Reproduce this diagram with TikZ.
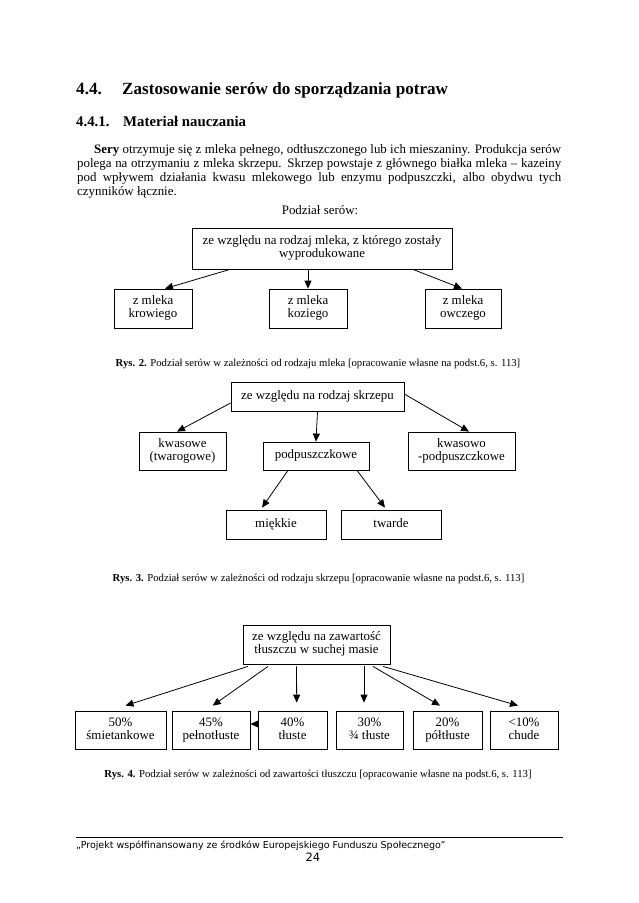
\documentclass[tikz,border=0pt]{standalone}
\usepackage{fontspec}
\setmainfont{Liberation Serif}
\newfontfamily\verd{DejaVu Sans}
\usetikzlibrary{arrows.meta}
\begin{document}
\begin{tikzpicture}[x=1pt,y=-1pt,
  dbox/.style={draw, line width=0.8pt, inner sep=0pt, align=center, font=\fontsize{12.9}{13}\selectfont},
  arr/.style={-{Triangle[length=8pt,width=7pt]}, line width=0.8pt},
  txt/.style={inner sep=0pt, font=\fontsize{12.9}{14}\selectfont},
  captxt/.style={inner sep=0pt, font=\fontsize{10.7}{12}\selectfont},
  hone/.style={inner sep=0pt, anchor=base west, font=\fontsize{17.1}{18}\selectfont\bfseries},
  htwo/.style={inner sep=0pt, anchor=base west, font=\fontsize{14.8}{16}\selectfont\bfseries}]
\path[use as bounding box, fill=white] (0,0) rectangle (638,903);

% headings
\node[hone] (h1n) at (76,94.5) {4.4.};
\node[hone] (h1t) at (122,94.5) {Zastosowanie serów do sporządzania potraw};
\node[htwo] (h2n) at (76,126.5) {4.4.1.};
\node[htwo] (h2t) at (123,126.5) {Materiał nauczania};

% paragraph
\node[txt, anchor=north west, text width=484pt, align=justify] (para) at (77,144)
{\hspace*{17pt}\textbf{Sery} otrzymuje się z mleka pełnego, odtłuszczonego lub ich mieszaniny. Produkcja serów\linebreak
polega na otrzymaniu z mleka skrzepu. Skrzep powstaje z głównego białka mleka – kazeiny\linebreak
pod wpływem działania kwasu mlekowego lub enzymu podpuszczki, albo obydwu tych\linebreak
czynników łącznie.};
\node[txt] (podz) at (320,210) {Podział serów:};

% diagram 1
\node[dbox, minimum width=260pt, minimum height=41pt] (top1) at (322,248.5) {\strut ze względu na rodzaj mleka, z którego zostały\\wyprodukowane\strut};
\node[dbox, minimum width=78pt, minimum height=39pt] (c1) at (153,308.5) {\strut z mleka\\krowiego\strut};
\node[dbox, minimum width=78pt, minimum height=39pt] (c2) at (308,308.5) {\strut z mleka\\koziego\strut};
\node[dbox, minimum width=76pt, minimum height=39pt] (c3) at (463,308.5) {\strut z mleka\\owczego\strut};
\draw[arr] ([xshift=-92pt]top1.south) -- ([xshift=12pt]c1.north);
\draw[arr] ([xshift=-14pt]top1.south) -- ([xshift=0pt]c2.north);
\draw[arr] ([xshift=91pt]top1.south) -- ([xshift=-1pt]c3.north);
\node[captxt] (cap2) at (318,364) {\textbf{Rys. 2.} Podział serów w zależności od rodzaju mleka [opracowanie własne na podst.6, s. 113]};

% diagram 2
\node[dbox, minimum width=173pt, minimum height=29pt] (top2) at (317.5,396.5) {\strut ze względu na rodzaj skrzepu};
\node[dbox, minimum width=87pt, minimum height=38pt] (k1) at (182.5,451) {\strut kwasowe\\(twarogowe)\strut};
\node[dbox, minimum width=106pt, minimum height=28pt] (k2) at (316,456) {\strut podpuszczkowe};
\node[dbox, minimum width=107pt, minimum height=38pt] (k3) at (461.5,451) {\strut kwasowo\\-podpuszczkowe\strut};
\node[dbox, minimum width=100pt, minimum height=29pt] (mk) at (276,524.5) {\strut miękkie};
\node[dbox, minimum width=100pt, minimum height=29pt] (tw) at (391,524.5) {\strut twarde};
\draw[arr] ([yshift=-6.5pt]top2.west) -- ([xshift=-5.5pt]k1.north);
\draw[arr] (top2.south) -- (k2.north);
\draw[arr] ([yshift=2.5pt]top2.east) -- ([xshift=7.5pt]k3.north);
\draw[arr] ([xshift=-28pt]k2.south) -- ([xshift=-14pt,yshift=2pt]mk.north);
\draw[arr] ([xshift=41pt]k2.south) -- ([xshift=-6pt,yshift=2pt]tw.north);
\node[captxt] (cap3) at (318.5,579) {\textbf{Rys. 3.} Podział serów w zależności od rodzaju skrzepu [opracowanie własne na podst.6, s. 113]};

% diagram 3
\node[dbox, minimum width=147pt, minimum height=39pt] (top3) at (316.5,644.5) {\strut ze względu na zawartość\\tłuszczu w suchej masie\strut};
\node[dbox, minimum width=91pt, minimum height=38pt] (b1) at (120.5,730) {\strut 50\%\\śmietankowe\strut};
\node[dbox, minimum width=78pt, minimum height=38pt] (b2) at (211,730) {\strut 45\%\\pełnotłuste\strut};
\node[dbox, minimum width=69pt, minimum height=38pt] (b3) at (292.5,730) {\strut 40\%\\tłuste\strut};
\node[dbox, minimum width=67pt, minimum height=38pt] (b4) at (369.5,730) {\strut 30\%\\¾ tłuste\strut};
\node[dbox, minimum width=69pt, minimum height=38pt] (b5) at (447.5,730) {\strut 20\%\\półtłuste\strut};
\node[dbox, minimum width=68pt, minimum height=38pt] (b6) at (524,730) {\strut <10\%\\chude\strut};
\draw[arr] ([xshift=-68.5pt,yshift=-2pt]top3.south) -- ([xshift=5pt,yshift=5pt]b1.north);
\draw[arr] ([xshift=-48.5pt,yshift=-2pt]top3.south) -- ([xshift=1.7pt,yshift=5pt]b2.north);
\draw[arr] ([xshift=-20pt,yshift=-2pt]top3.south) -- ([xshift=4.2pt,yshift=8pt]b3.north);
\draw[arr] ([xshift=47.5pt,yshift=-2pt]top3.south) -- ([xshift=-5.5pt,yshift=8pt]b4.north);
\draw[arr] ([xshift=56.5pt,yshift=-2pt]top3.south) -- ([xshift=-7.5pt,yshift=5pt]b5.north);
\draw[arr] ([xshift=66.5pt,yshift=-2pt]top3.south) -- ([xshift=-6pt,yshift=5pt]b6.north);
\draw[arr] ([yshift=6pt]b3.west) -- ([yshift=6pt]b2.east);
\node[captxt] (cap4) at (318,775) {\textbf{Rys. 4.} Podział serów w zależności od zawartości tłuszczu [opracowanie własne na podst.6, s. 113]};

% footer
\coordinate (fl) at (76,837);
\coordinate (fr) at (563,837);
\draw[line width=0.8pt] (fl) -- (fr);
\node[inner sep=0pt, anchor=west, font=\verd\fontsize{9.5}{10}\selectfont] (foot) at (76,846) {„Projekt współfinansowany ze środków Europejskiego Funduszu Społecznego”};
\node[inner sep=0pt, font=\verd\fontsize{11.5}{12}\selectfont] (pg) at (313,857) {24};
\end{tikzpicture}
\end{document}
